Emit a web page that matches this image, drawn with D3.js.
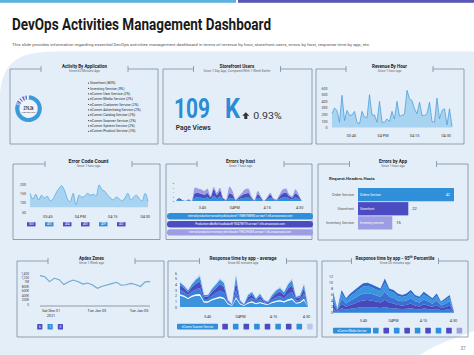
<!DOCTYPE html>
<html><head><meta charset="utf-8">
<script src="https://cdn.jsdelivr.net/npm/d3@7"></script>
<style>body{margin:0;background:#fff}svg{display:block}text{font-family:Roboto,'Noto Sans',sans-serif}</style>
</head><body><svg id="c" width="474" height="355"></svg>
<script>
// ---------------- DATA ----------------
const appNames = ["Storefront (80%)","Inventory Service (3%)","eComm User Service (2%)","eComm Media Service (2%)","eComm Customer Service (2%)","eComm Advertising Service (2%)","eComm Catalog Service (2%)","eComm Scanner Service (2%)","eComm System Service (2%)","eComm Product Service (2%)"];
const appShares = [80,3,2,2,2,2,2,2,2,2];
const transactionsLabel = "279.2k";

const pageViews = "109", pageViewsUnit = "K", pageViewsChange = "0.93%";

const revenueValues = [208,295,260,80,490,105,260,183,190,245,80,55,245,160,145,500,190,190,80,396,80,80,130,90,245,130,396,170,183,208,565,437,410,285,208,386,183,183,208,386,90,80,447,130,260,285,40,285,15];
const revenueTicks = [0,100,200,300,400,500,600];

const timeTickMinutes = [45,60,75,90];
const timeLabelsLong = ["03:45","04 PM","04:15","04:30"];
const timeLabelsShort = ["3:45","04PM","4:15","4:30"];

const errorCodeValues = [150,120,145,115,140,125,135,110,120,150,175,190,165,120,105,150,90,140,130,135,150,140,145,135,195,170,160,140,125,115,130,120,110,125,150,115,130,140,120,110,150,105];
const errorCodeTicks = [50,100,150,200];
const errorCodes = ["503","403","404","400","409","402"];

const hostA = [0,0.6,0.2,0,0.3,0,1.5,1.6,1.4,1.2,1.6,0.8,2.2,1.2,2.0,0.5,0.2,1.5,1.2,0.2,0.8,1.2,1.4,1.6,0.7,0.1,1.4,0.7,0,0.6,1.4,0.4,0.2,1.0,1.6,1.8,1.0,0.7,1.6,1.0,0];
const hostB = [0,0.6,0.2,0,0.4,0,2.0,2.0,1.8,1.6,2.0,0.9,3.0,1.5,2.6,0.6,0.3,2.0,1.6,0.3,0.8,1.4,1.8,2.0,0.8,0.2,1.6,0.8,0,0.7,1.5,0.5,0.3,1.2,1.8,2.0,1.2,0.8,1.8,1.2,0];
const hostC = [0,0,0,0,0,0,2.5,2.0,2.0,1.6,2.0,0.5,1.0,1.0,1.3,0.4,0.2,3.0,1.6,0.2,0.6,1.1,2.0,2.0,0.7,0.1,1.4,0.7,0,0.5,0.8,0.3,0.2,0.8,1.8,1.8,0.8,0.7,1.8,0.8,0];
const hostTicks = [0,2,4,6,8];
const hostNames = ["internal-production-console-publicsubnet1-7MBE7NBWG.us-east-1.elb.amazonaws.com","Production-aBotBot-loadbalanB-TM47WVTE.us-east-1.elb.amazonaws.com","internal-production-inventory-ebt-elbsubn-7YBCVHOGE.us-east-1.elb.amazonaws.com"];

const appCategories = ["Order Service","Storefront","Inventory Service"];
const appBarLabels = ["Orders Service","Storefront","Inventory service"];
const appErrors = [42,22,15];

const apdexValues = [1280,1230,1010,1160,1100,880,1000,1080,1000,900,950,860,710,800,860,920,980,850,870,930,880,790,1000,1010];
const apdexTicks = [0,200,400,600,800,1000,1200,1400];
const apdexTickLabels = ["0","200K","400K","600K","800K","1M","1,200","1,400"];
const apdexDateIdx = [2.3,11.9,20.7];
const apdexDateLabels = [["Sat Dec 31","2021"],["Tue Jan 03"],["Tue Jan 05"]];
const apdexZones = ["6","1","0"];

const avgL1 = [2.0,1.8,1.4,1.8,2.0,2.0,0.8,0.8,1.2,1.4,1.6,1.4,0.5,0.2,1.5,0.5,0.2,0.6,0.8,0.5,0.7,0.5,0.4,0.7,0.9,1.0,0.8,1.1,1.3,0.6,0.7,1.2,0];
const avgL2 = [0.25,0.25,0.2,0.25,0.25,0.3,0.2,0.2,0.2,0.25,0.25,0.25,0.15,0.1,0.2,0.15,0.1,0.2,0.2,0.15,0.2,0.15,0.1,0.2,0.2,0.25,0.2,0.25,0.25,0.15,0.2,0.25,0];
const avgL3 = [0.8,0.6,0.5,0.7,0.9,1.0,0.4,0.4,0.6,0.8,1.0,0.9,0.2,0.1,1.2,0.2,0.1,0.4,0.6,0.3,0.5,0.2,0.2,0.4,0.6,0.7,0.5,0.9,1.1,0.4,0.4,0.9,0];
const avgL4 = [0.8,0.7,0.5,0.8,1.0,1.2,0.4,0.4,0.7,0.9,1.2,1.0,0.2,0.05,1.5,0.2,0.05,0.5,0.6,0.3,0.5,0.2,0.15,0.4,0.7,0.8,0.6,1.0,1.2,0.4,0.4,0.9,0];
const avgL5 = [0.5,0.4,0.35,0.5,0.7,0.9,0.3,0.3,0.5,0.6,0.8,0.7,0.2,0.05,1.1,0.2,0.05,0.4,0.45,0.25,0.45,0.2,0.1,0.4,0.5,0.6,0.5,0.7,0.9,0.25,0.35,0.7,0.1];
const avgL6 = [0.15,0.15,0.15,0.15,0.25,0.4,0.1,0.1,0.2,0.25,0.25,0.25,0.05,0,0.3,0.05,0,0.1,0.15,0.1,0.15,0.05,0.05,0.1,0.2,0.25,0.2,0.25,0.35,0.1,0.15,0.25,0];
const avgTicks = [0,1,2,3,4,5,6];

const p95L1 = [1.5,0.4,1.5,1.0,1.3,1.5,1.7,1.8,1.8,1.8,1.7,1.6,1.9,1.6,1.5,1.3,1.2,1.3,1.5,1.2,1.1,1.4,1.2,1.0,1.3,0.8,1.0,1.2,0.1];
const p95L2 = [1.5,0.3,1.5,1.0,1.3,1.6,2.0,2.3,2.4,2.2,2.0,1.8,2.4,1.8,1.6,1.3,1.2,1.3,1.6,1.2,1.0,1.4,1.2,0.9,1.3,0.7,0.9,1.2,0.05];
const p95L3 = [1.6,0.3,1.6,1.1,1.4,1.7,2.0,2.3,2.3,2.2,2.0,1.9,2.8,1.9,1.8,1.5,1.4,1.5,1.8,1.4,1.3,1.6,1.4,1.1,1.5,0.9,1.1,1.4,0.05];
const p95L4 = [1.6,0.3,1.8,1.1,1.5,1.8,2.0,2.3,2.4,2.2,2.0,1.9,2.8,1.9,1.8,1.5,1.4,1.5,1.8,1.4,1.3,1.7,1.4,1.2,1.5,0.9,1.2,1.4,0.05];
const p95L5 = [0.8,0.1,1.2,0.6,0.9,1.0,1.0,1.1,1.1,1.0,1.0,0.9,1.5,0.9,0.9,0.8,0.7,0.8,0.9,0.7,0.6,0.9,0.7,0.6,0.8,0.4,0.6,0.7,0.05];
const p95Ticks = [0,2,4,6,8,10,12];

// ---------------- STYLE ----------------
const BORDER = "#7b8aa0", BG = "#e4eef8", DARK = "#1e1e1e";
const BLUE = "#2f8fd8", PURPLE = "#4b4cc2", LAV = "#9c9de3";

const svg = d3.select("#c");

// background
svg.append("path").attr("d","M0,95 C2,65 15,51.5 55,51.5 L474,51.5 L474,331 C450,340 432,346 420,355 L0,355 Z").attr("fill",BG);
svg.append("rect").attr("x",0).attr("y",0).attr("width",236).attr("height",2.8).attr("fill","#5db3e0");
svg.append("rect").attr("x",238).attr("y",0).attr("width",236).attr("height",2.8).attr("fill","#5b57b6");

function txt(g,x,y,s,o={}){
  const t=g.append("text").attr("x",x).attr("y",y).text(s)
    .attr("font-size",o.size||4).attr("fill",o.fill||DARK)
    .attr("font-weight",o.weight||400).attr("text-anchor",o.anchor||"start");
  if(o.len) t.attr("textLength",o.len).attr("lengthAdjust","spacingAndGlyphs");
  return t;
}

txt(svg,12,30,"DevOps Activities Management Dashboard",{size:17,weight:700,len:259,fill:"#1a1a1a"});
txt(svg,12,46,"This slide provides information regarding essential DevOps activities management dashboard in terms of revenue by hour, storefront users, errors by host, response time by app, etc.",{size:3.9,fill:"#555",len:358});
txt(svg,463,350,"37",{size:4.5,fill:"#777",anchor:"middle"});

function panel(x,y,w,h,cx,title,titleLen,sub){
  const g=svg.append("g"), gap=43.5;
  g.append("path").attr("d",`M${cx-gap},${y}H${x}V${y+h}H${x+w}V${y}H${cx+gap}`)
    .attr("fill","none").attr("stroke",BORDER).attr("stroke-width",0.8);
  [cx-gap,cx+gap].forEach(t=>g.append("line").attr("x1",t).attr("x2",t).attr("y1",y-3).attr("y2",y+3).attr("stroke",BORDER).attr("stroke-width",0.8));
  txt(g,cx,y-1,title,{size:5.5,weight:700,anchor:"middle",len:titleLen});
  txt(g,cx,y+2.6,sub,{size:3.2,fill:"#666",anchor:"middle"});
  return g;
}

function styleAxis(g,size,fill){
  g.select(".domain").remove();
  g.selectAll("text").attr("font-size",size).attr("fill",fill||"#444").attr("font-family","Roboto,sans-serif");
}
function timeAxis(g,x,y,labels){
  const a=g.append("g").attr("transform",`translate(0,${y})`)
    .call(d3.axisBottom(x).tickValues(timeTickMinutes).tickFormat((d,i)=>labels[i]).tickSize(0).tickPadding(0));
  styleAxis(a,3.8,"#333");
}
function yAxis(g,y,x,ticks,fmt,size){
  const a=g.append("g").attr("transform",`translate(${x},0)`)
    .call(d3.axisLeft(y).tickValues(ticks).tickFormat(fmt||(d=>d)).tickSize(0).tickPadding(0));
  styleAxis(a,size||3.6,"#444");
}
function times(n,a,b){return d3.range(n).map(i=>a+i*(b-a)/(n-1));}
function stacked(g,series,colors,x,y,t0,t1,curve){
  const n=series[0].length, ts=times(n,t0,t1);
  const rows=d3.range(n).map(i=>{const o={t:ts[i]};series.forEach((s,k)=>o["s"+k]=s[i]);return o;});
  const st=d3.stack().keys(series.map((_,k)=>"s"+k))(rows);
  const area=d3.area().x(d=>x(d.data.t)).y0(d=>y(d[0])).y1(d=>y(d[1])).curve(curve);
  g.selectAll(null).data(st).join("path").attr("d",area).attr("fill",(d,i)=>colors[i]);
}

// ---------- Panel 1: Activity By Application ----------
{
  const g=panel(10,69,148,75,84.5,"Activity By Application",45,"Since 60 Minutes Ago");
  const cols=["#3b9ad9","#a3a8e3","#4b4cc2","#ffffff","#6a6cd0","#f2f5fb","#4b4cc2","#c9d3ef","#5a5cc8","#ffffff"];
  const pie=d3.pie().sort(null).value(d=>d)(appShares);
  const arc=d3.arc().innerRadius(9.2).outerRadius(13.4);
  const dg=g.append("g").attr("transform","translate(28.5,108.7)");
  dg.append("circle").attr("r",9.2).attr("fill","#eef4fa");
  dg.selectAll(null).data(pie).join("path").attr("d",arc).attr("fill",(d,i)=>cols[i]).attr("stroke","#d8e4f2").attr("stroke-width",0.15);
  txt(dg,0,1.2,transactionsLabel,{size:5.2,weight:700,anchor:"middle",len:10});
  txt(dg,0,3.9,"TRANSACTIONS",{size:1.9,anchor:"middle",fill:"#444"});
  appNames.forEach((n,i)=>{
    const yy=84.3+i*5.35;
    g.append("circle").attr("cx",88.6).attr("cy",yy-1.2).attr("r",0.6).attr("fill","#333");
    txt(g,90,yy,n,{size:3.5,fill:"#2a2a2a"});
  });
}

// ---------- Panel 2: Storefront Users ----------
{
  const g=panel(163,69,149,75,237,"Storefront Users",35,"Since 1 Day Ago, Compared With 1 Week Earlier");
  txt(g,174,118.3,pageViews,{size:28,weight:700,fill:"#2b8bd5",len:36});
  txt(g,225,118.3,pageViewsUnit,{size:28,weight:700,fill:"#2b8bd5",len:15});
  g.append("path").attr("d","M245.8,112.2 L249.4,115.8 L247.3,115.8 L247.3,119 L244.3,119 L244.3,115.8 L242.2,115.8 Z").attr("fill","#333");
  txt(g,253.3,119,pageViewsChange,{size:9.4,fill:"#333",len:28.4});
  txt(g,175.7,130,"Page Views",{size:6.3,weight:700,fill:"#333",len:35});
}

// ---------- Panel 3: Revenue By Hour ----------
{
  const g=panel(316,69,148,75,389.5,"Revenue By Hour",35,"Since 1 hour ago");
  const x=d3.scaleLinear().domain([36,93]).range([332,452]);
  const y=d3.scaleLinear().domain([0,600]).range([127.5,88]);
  const ts=times(revenueValues.length,36,93);
  const pts=revenueValues.map((v,i)=>[ts[i],v]);
  g.append("path").datum(pts).attr("d",d3.area().x(d=>x(d[0])).y0(y(0)).y1(d=>y(d[1]))).attr("fill","#a8d3f1");
  g.append("path").datum(pts).attr("d",d3.line().x(d=>x(d[0])).y(d=>y(d[1]))).attr("fill","none").attr("stroke","#3f98d8").attr("stroke-width",0.7);
  yAxis(g,y,327.5,revenueTicks,null,3.6);
  timeAxis(g,x,134,timeLabelsLong);
}

// ---------- Panel 4: Error Code Count ----------
{
  const g=panel(13,164,147,75.5,88.5,"Error Code Count",40,"Since 1 hour ago");
  const x=d3.scaleLinear().domain([37,91.5]).range([30,148]);
  const y=d3.scaleLinear().domain([50,200]).range([212,184]);
  const ts=times(errorCodeValues.length,37,91.5);
  const pts=errorCodeValues.map((v,i)=>[ts[i],v]);
  g.append("path").datum(pts).attr("d",d3.area().x(d=>x(d[0])).y0(y(75)).y1(d=>y(d[1])).curve(d3.curveMonotoneX)).attr("fill","#a8d3f1");
  g.append("path").datum(pts).attr("d",d3.line().x(d=>x(d[0])).y(d=>y(d[1])).curve(d3.curveMonotoneX)).attr("fill","none").attr("stroke","#3f98d8").attr("stroke-width",0.6);
  yAxis(g,y,26,errorCodeTicks,null,3.6);
  timeAxis(g,x,215,timeLabelsLong);
  const pc=[PURPLE,BLUE,PURPLE,PURPLE,BLUE,PURPLE];
  errorCodes.forEach((c,i)=>{
    const px=27+i*18;
    g.append("rect").attr("x",px).attr("y",222.2).attr("width",8.5).attr("height",4.2).attr("fill",pc[i]);
    txt(g,px+4.25,225.3,c,{size:2.8,fill:"#fff",anchor:"middle"});
  });
}

// ---------- Panel 5: Errors by host ----------
{
  const g=panel(166,164,146,75.5,240.5,"Errors by host",29,"Since 1 hour ago");
  const x=d3.scaleLinear().domain([33,91.2]).range([176,301.7]);
  const y=d3.scaleLinear().domain([0,8]).range([201,183]);
  stacked(g,[hostA,hostB,hostC],[BLUE,PURPLE,LAV],x,y,33,91.2,d3.curveMonotoneX);
  yAxis(g,y,174,hostTicks,null,2.2);
  timeAxis(g,x,206,timeLabelsShort);
  const hc=[BLUE,PURPLE,LAV];
  hostNames.forEach((n,i)=>{
    const yy=213+i*8.1;
    g.append("rect").attr("x",167).attr("y",yy).attr("width",146).attr("height",6.4).attr("rx",3.2).attr("fill",hc[i]);
    txt(g,240,yy+4.2,n,{size:2.7,fill:"#fff",anchor:"middle"});
  });
}

// ---------- Panel 6: Errors by App ----------
{
  const g=panel(318,164,150,76,393,"Errors by App",28,"Since 1 hour ago");
  txt(g,329,180,"Request.Headers.Hosts",{size:4.2,weight:700,fill:"#333",len:45.7});
  const y=d3.scaleBand().domain(appCategories).range([188,229.5]).paddingInner(0.06);
  const x=d3.scaleLinear().domain([0,42]).range([358,454]);
  const bc=[BLUE,PURPLE,LAV];
  appCategories.forEach((c,i)=>{
    const yy=y(c), h=y.bandwidth();
    g.append("rect").attr("x",x(0)).attr("y",yy).attr("width",x(appErrors[i])-x(0)).attr("height",h).attr("fill",bc[i]);
    txt(g,354,yy+h/2+1.3,c,{size:3.7,fill:"#555",anchor:"end"});
    txt(g,360,yy+h/2+1.1,appBarLabels[i],{size:3.2,fill:"#fff"});
    if(appErrors[i]>30) txt(g,x(appErrors[i])-4,yy+h/2+1.4,appErrors[i],{size:3.9,fill:"#fff",anchor:"end"});
    else txt(g,x(appErrors[i])+4,yy+h/2+1.4,appErrors[i],{size:3.9,fill:"#222"});
  });
}

// ---------- Panel 7: Apdex Zones ----------
{
  const g=panel(17,261,147,76,91.5,"Apdex Zones",25,"Since 1 Week ago");
  const x=d3.scaleLinear().domain([0,apdexValues.length-1]).range([40,150]);
  const y=d3.scaleLinear().domain([0,1400]).range([304,273]);
  g.append("line").attr("x1",40).attr("x2",150).attr("y1",306).attr("y2",306).attr("stroke","#8d9aab").attr("stroke-width",1.2);
  g.append("path").datum(apdexValues).attr("d",d3.line().x((d,i)=>x(i)).y(d=>y(d))).attr("fill","none").attr("stroke","#6ea8cf").attr("stroke-width",1.1);
  yAxis(g,y,29,apdexTicks,(d,i)=>apdexTickLabels[i],3.2);
  apdexDateIdx.forEach((p,i)=>{
    apdexDateLabels[i].forEach((l,j)=>txt(g,x(p),311.5+j*5.6,l,{size:3.8,fill:"#333",anchor:"middle"}));
  });
  const zc=[PURPLE,BLUE,PURPLE];
  apdexZones.forEach((z,i)=>{
    const px=37.2+i*10.3;
    g.append("rect").attr("x",px).attr("y",324).attr("width",5.2).attr("height",5.6).attr("rx",0.6).attr("fill",zc[i]);
    txt(g,px+2.6,328,z,{size:3,fill:"#fff",anchor:"middle"});
  });
}

// ---------- Panel 8: Response time average ----------
{
  const g=panel(168,261,149,76,243,"Response time by app - average",67,"Since 60 minutes ago");
  const x=d3.scaleLinear().domain([32.7,90.9]).range([180,308]);
  const y=d3.scaleLinear().domain([0,6]).range([307,273]);
  stacked(g,[avgL1,avgL2,avgL3,avgL4,avgL5,avgL6],["#3b94dc","#ffffff","#3b7ddb","#4a4cc0","#3a8fe0","#c8d3f3"],x,y,32.7,90.9,d3.curveLinear);
  yAxis(g,y,177,avgTicks,null,3.6);
  timeAxis(g,x,315,timeLabelsShort);
  g.append("rect").attr("x",177).attr("y",323.8).attr("width",41).attr("height",5.6).attr("rx",0.8).attr("fill",BLUE);
  txt(g,197.5,327.6,"eComm Scanner Service",{size:2.9,fill:"#fff",anchor:"middle"});
  const sc=[PURPLE,BLUE,PURPLE,BLUE,PURPLE,BLUE,PURPLE,BLUE,"#b9c8ef"];
  sc.forEach((c,i)=>g.append("rect").attr("x",222.3+i*10.6).attr("y",323.8).attr("width",5.6).attr("height",5.6).attr("rx",0.6).attr("fill",c));
}

// ---------- Panel 9: Response time 95th ----------
{
  const g=panel(322,261,146,76,395,"Response time by app - 95\u1D57\u02B0 Percentile",79,"Since 60 minutes ago");
  const x=d3.scaleLinear().domain([30,90.5]).range([333,454]);
  const y=d3.scaleLinear().domain([0,12]).range([312.7,276.7]);
  stacked(g,[p95L1,p95L2,p95L3,p95L4,p95L5],["#3580da","#4a47b8","#3a6fd6","#3a94de","#2e69cf"],x,y,30,90.5,d3.curveLinear);
  yAxis(g,y,333,p95Ticks,null,3.6);
  timeAxis(g,x,319,timeLabelsShort);
  g.append("rect").attr("x",333).attr("y",327.8).attr("width",38).attr("height",5.6).attr("rx",0.8).attr("fill",BLUE);
  txt(g,352,331.6,"eComm Media Service",{size:2.9,fill:"#fff",anchor:"middle"});
  const sc=[BLUE,PURPLE,BLUE,PURPLE,BLUE,PURPLE,BLUE,PURPLE,LAV];
  sc.forEach((c,i)=>g.append("rect").attr("x",373+i*10.45).attr("y",327.8).attr("width",5.6).attr("height",5.6).attr("rx",0.6).attr("fill",c));
}
</script></body></html>
